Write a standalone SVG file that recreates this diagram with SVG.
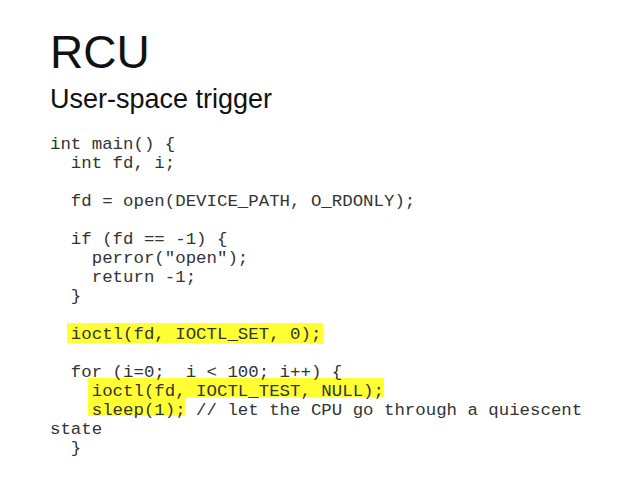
<svg xmlns="http://www.w3.org/2000/svg" width="638" height="479" viewBox="0 0 638 479">
<style>
.t{font-family:"Liberation Sans",Arial,sans-serif;fill:#111}
.c{font-family:"Liberation Mono","Courier New",monospace;font-size:17.4px;fill:#333;white-space:pre}
.h{fill:#ffff33}
</style>
<rect width="638" height="479" fill="#fff"/>
<text class="t" x="50" y="68" font-size="46">RCU</text>
<text class="t" x="50" y="108" font-size="27">User-space trigger</text>
<rect class="h" x="67" y="323" width="256" height="20"/>
<rect class="h" x="88" y="378" width="296" height="19"/>
<rect class="h" x="88" y="397" width="97" height="19"/>
<g class="c">
<text x="50" y="149" xml:space="preserve">int main() {</text>
<text x="50" y="168" xml:space="preserve">  int fd, i;</text>
<text x="50" y="206" xml:space="preserve">  fd = open(DEVICE_PATH, O_RDONLY);</text>
<text x="50" y="244" xml:space="preserve">  if (fd == -1) {</text>
<text x="50" y="263" xml:space="preserve">    perror("open");</text>
<text x="50" y="282" xml:space="preserve">    return -1;</text>
<text x="50" y="301" xml:space="preserve">  }</text>
<text x="50" y="339" xml:space="preserve">  ioctl(fd, IOCTL_SET, 0);</text>
<text x="50" y="377" xml:space="preserve">  for (i=0;  i &lt; 100; i++) {</text>
<text x="50" y="396" xml:space="preserve">    ioctl(fd, IOCTL_TEST, NULL);</text>
<text x="50" y="415" xml:space="preserve">    sleep(1); // let the CPU go through a quiescent</text>
<text x="50" y="434" xml:space="preserve">state</text>
<text x="50" y="453" xml:space="preserve">  }</text>
</g>
</svg>
